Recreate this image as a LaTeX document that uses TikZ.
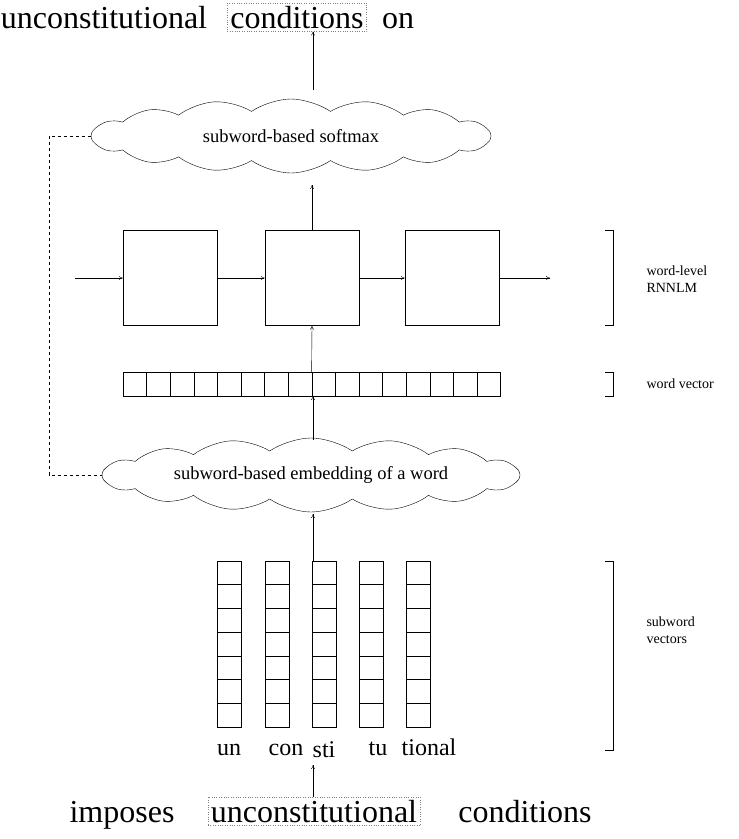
\documentclass[tikz,border=0pt]{standalone}
\usepackage{fontspec}
\setmainfont{Liberation Serif}
\usetikzlibrary{shapes.symbols,arrows.meta}
\begin{document}
\begin{tikzpicture}[x=1pt,y=-1pt,
  big/.style={font=\fontsize{32}{34}\selectfont, inner sep=3pt, anchor=base},
  sel/.style={draw=gray, dotted},
  cloudy/.style={cloud, draw, cloud puffs=16, cloud puff arc=70, cloud ignores aspect,
    inner sep=0pt, minimum width=#1, minimum height=74, font=\fontsize{18.5}{20}\selectfont},
  blk/.style={draw, minimum width=94, minimum height=95, inner sep=0pt},
  cell/.style={draw, minimum width=23.6, minimum height=23.7, inner sep=0pt},
  lab/.style={font=\fontsize{14}{17}\selectfont, anchor=west, align=left},
  sub/.style={font=\fontsize{24}{26}\selectfont, anchor=base},
  ar/.style={-{To[length=4pt,width=4pt]}},
  brk/.style={draw}]
\useasboundingbox (0,0) rectangle (739,839);

% output words
\node[big] (o1) at (104,28) {unconstitutional};
\node[big,sel] (o2) at (297,28) {conditions};
\node[big] (o3) at (398,28) {on};

% softmax cloud
\node[cloudy=400] (sm) at (291,136) {subword-based softmax};
\coordinate (smt) at (313,90);
\draw[ar] (smt) -- (smt |- o2.south);

% RNN blocks
\node[blk] (b1) at (170,278) {};
\node[blk] (b2) at (312,278) {};
\node[blk] (b3) at (452,278) {};
\coordinate (in) at (75,278);
\coordinate (out) at (550,278);
\draw[ar] (in) -- (b1);
\draw[ar] (b1) -- (b2);
\draw[ar] (b2) -- (b3);
\draw[ar] (b3) -- (out);
\coordinate (smb) at (312,185);
\draw[ar] (b2.north) -- (smb);

% word vector
\foreach \i in {0,...,15}
  \node[cell] (w\i) at ({134.8+23.6*\i},384) {};
\draw[ar] (w8.north west) -- (b2.south);

% embedding cloud
\node[cloudy=418] (emb) at (311,475) {subword-based embedding of a word};
\coordinate (embt) at (313,440);
\draw[ar] (embt) -- (embt |- w8.south);

% dashed link
\coordinate (d1) at (49,136);
\coordinate (d2) at (49,475);
\draw[dashed] (sm.west) -- (d1) -- (d2) -- (emb.west);

% subword vectors
\foreach \c/\x in {0/229,1/277,2/324,3/371,4/418}
  \foreach \r in {0,...,6}
    \node[cell] (s\c\r) at (\x,{572.8+23.7*\r}) {};
\coordinate (embb) at (313,514);
\draw[ar] (s20.north -| embb) -- (embb);

\node[sub] (l0) at (229,755) {un};
\node[sub] (l1) at (286,755) {con};
\node[sub] (l2) at (324,757) {sti};
\node[sub] (l3) at (378,755) {tu};
\node[sub] (l4) at (429,755) {tional};

% input words
\node[big] (i1) at (122,822) {imposes};
\node[big,sel] (i2) at (314,822) {unconstitutional};
\node[big] (i3) at (525,822) {conditions};
\coordinate (it) at (313,765);
\draw[ar] (i2.north -| it) -- (it);

% brackets
\draw[brk] (605,230) -- (613,230) -- (613,325) -- (605,325);
\draw[brk] (605,372) -- (613,372) -- (613,396) -- (605,396);
\draw[brk] (605,561) -- (613,561) -- (613,750) -- (605,750);
\node[lab] (t1) at (643,279) {word-level\\RNNLM};
\node[lab] (t2) at (643,384) {word vector};
\node[lab] (t3) at (643,630) {subword\\vectors};
\end{tikzpicture}
\end{document}
